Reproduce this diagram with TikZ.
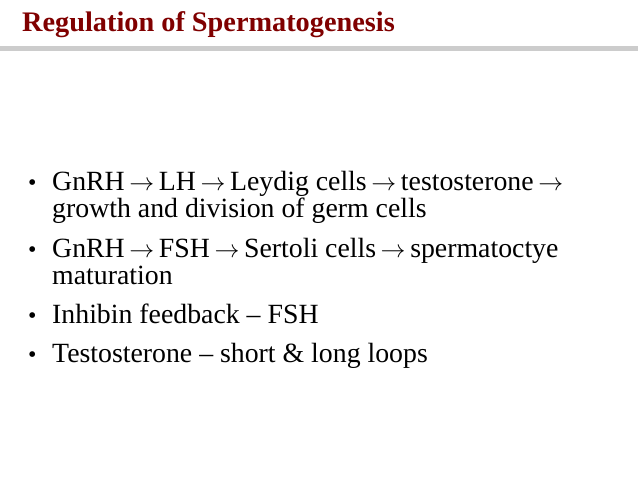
\documentclass[tikz,border=0pt]{standalone}
\usepackage{fontspec}
\setmainfont{Liberation Serif}
\begin{document}
\begin{tikzpicture}[x=1pt,y=-1pt,
  bl/.style={anchor=base west,inner sep=0pt,font=\fontsize{27.8}{32}\selectfont},
  dot/.style={anchor=base west,inner sep=0pt,font=\fontsize{24}{28}\selectfont}]
\useasboundingbox (0,0) rectangle (638,478);
\fill[white] (0,0) rectangle (638,478);
\node[anchor=base west,inner sep=0pt,text=red!50!black,font=\fontsize{28.3}{32}\selectfont\bfseries] (title) at (22,32) {Regulation of Spermatogenesis};
\fill[black!20] (0,46) rectangle (638,51);
\def\ar{\,$\rightarrow$\,}
\node[dot] (b1) at (28,191) {•};
\node[bl] (t1a) at (52,191) {GnRH\ar LH\ar Leydig cells\ar testosterone\ar};
\node[bl] (t1b) at (52,218) {growth and division of germ cells};
\node[dot] (b2) at (28,258) {•};
\node[bl] (t2a) at (52,258) {GnRH\ar FSH\ar Sertoli cells\ar spermatoctye};
\node[bl] (t2b) at (52,285) {maturation};
\node[dot] (b3) at (28,324) {•};
\node[bl] (t3) at (52,324) {Inhibin feedback -- FSH};
\node[dot] (b4) at (28,363) {•};
\node[bl] (t4) at (52,363) {Testosterone -- short \& long loops};
\end{tikzpicture}
\end{document}
